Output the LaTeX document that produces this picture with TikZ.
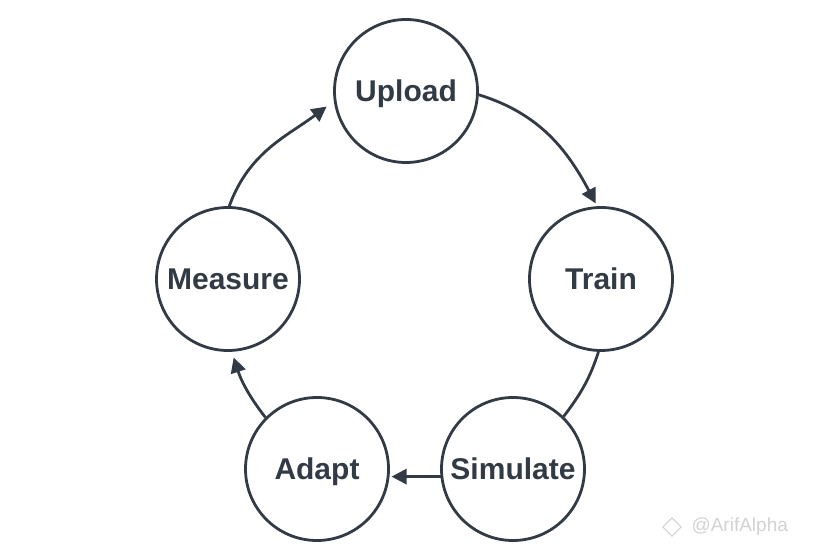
\documentclass[tikz,border=0pt]{standalone}
\usepackage{fontspec}
\setmainfont{Liberation Sans}
\usetikzlibrary{arrows.meta}
\definecolor{ink}{HTML}{323B45}
\definecolor{wm}{HTML}{D2D2D2}
\begin{document}
\begin{tikzpicture}[x=1pt,y=1pt,
  stage/.style={circle,draw=ink,line width=2.8pt,minimum size=143pt,inner sep=0pt,
    text height=21pt,text depth=0pt,
    font=\fontsize{30}{33}\selectfont\bfseries,text=ink},
  flow/.style={draw=ink,line width=2.8pt,-{Triangle[length=15pt,width=15pt]}},
  link/.style={draw=ink,line width=2.8pt}]
\useasboundingbox (0,0) rectangle (828,552);
\node[stage] (upload)   at (406,461) {Upload};
\node[stage] (train)    at (601,273) {Train};
\node[stage] (simulate) at (513,83)  {Simulate};
\node[stage] (adapt)    at (317,83)  {Adapt};
\node[stage] (measure)  at (228,273) {Measure};

\draw[flow,shorten >=3pt] (upload.-3) to[out=-17,in=118] (train.93);
\draw[link] (train.-92) to[out=-108,in=53] (simulate.46);
\draw[flow,shorten >=2pt] (simulate.186) -- (adapt.-6);
\draw[flow,shorten >=6pt] (adapt.135) to[out=128,in=-72] (measure.-87);
\draw[flow,shorten >=9pt] (measure.89) to[out=70,in=217] (upload.188);

\node[text=wm,font=\fontsize{19}{22}\selectfont,anchor=west] (wmtext) at (688,25) {@ArifAlpha};
\node[draw=wm,line width=1pt,minimum size=13pt,inner sep=0pt,rotate=45] (wmlogo) at (672,25) {};
\end{tikzpicture}
\end{document}
